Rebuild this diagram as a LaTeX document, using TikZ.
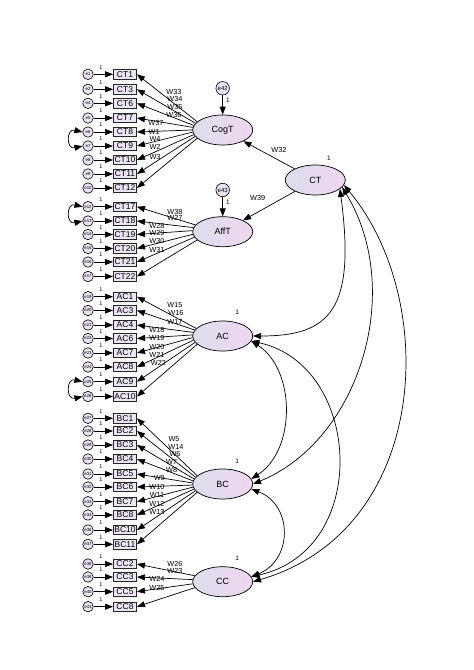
\documentclass[tikz,border=0pt]{standalone}
\usepackage{fontspec}
\setmainfont{Liberation Sans}
\usetikzlibrary{arrows.meta,shapes.geometric}
\definecolor{boxfill}{HTML}{EDE5F5}
\definecolor{ellL}{HTML}{DCDEEC}
\definecolor{ellR}{HTML}{F0D6F0}
\definecolor{efill}{HTML}{EAE2F2}
\tikzset{
  obs/.style={draw=black!85, line width=0.9pt, fill=boxfill, minimum width=23pt, minimum height=9.5pt, inner sep=0pt, font=\fontsize{8.5}{8}\selectfont},
  err/.style={circle, draw, line width=0.6pt, fill=efill, minimum size=10.5pt, inner sep=0pt, font=\fontsize{4.3}{4}\selectfont},
  bigerr/.style={circle, draw, line width=0.6pt, fill=efill, minimum size=13.5pt, inner sep=0pt, font=\fontsize{6}{6}\selectfont},
  lat/.style={ellipse, draw, line width=0.7pt, left color=ellL, right color=ellR, minimum width=60pt, minimum height=30pt, inner sep=0pt, font=\fontsize{9}{9}\selectfont},
  arr/.style={line width=0.7pt, -{Triangle[length=8pt,width=6pt]}},
  dbl/.style={line width=0.7pt, {Triangle[length=8pt,width=6pt]}-{Triangle[length=8pt,width=6pt]}},
  wlab/.style={font=\fontsize{7.3}{7}\selectfont, inner sep=0pt},
  onelab/.style={font=\fontsize{6.5}{6}\selectfont, inner sep=0pt},
  rowone/.style={font=\fontsize{5.5}{5}\selectfont, inner sep=0pt},
}
\begin{document}
\begin{tikzpicture}[x=1pt,y=-1pt]
\useasboundingbox (0,0) rectangle (474,670);
\fill[white] (0,0) rectangle (474,670);

% latent variables
\node[lat] (CogT) at (222.7,130) {CogT};
\node[lat] (AffT) at (222.7,231.7) {AffT};
\node[lat] (CT) at (315.3,180) {CT};
\node[lat] (AC) at (222.7,336) {AC};
\node[lat] (BC) at (222.7,484) {BC};
\node[lat] (CC) at (222.7,581.7) {CC};
\node[bigerr] (e42) at (222.7,88.3) {e42};
\node[bigerr] (e43) at (222.7,190) {e43};
\draw[arr] (e42) -- (CogT);
\draw[arr] (e43) -- (AffT);
\node[onelab] (one42) at (228,100) {1};
\node[onelab] (one43) at (228,202) {1};
\draw[arr] (CT) -- (CogT);
\draw[arr] (CT) -- (AffT);
\node[wlab] (w32) at (279,150) {W32};
\node[wlab] (w39) at (257.7,198.3) {W39};
\node[onelab] (oneCT) at (329,158) {1};
\node[onelab] (oneAC) at (237.3,312.3) {1};
\node[onelab] (oneBC) at (237.3,461.7) {1};
\node[onelab] (oneCC) at (237.3,558.3) {1};

% indicators
\foreach \n/\y/\e [count=\i] in {CT1/74.3/e1, CT3/89.3/e2, CT6/103.3/e4, CT7/118/e5, CT8/132/e6, CT9/146/e7, CT10/160/e8, CT11/174/e9, CT12/188/e10}{
  \node[obs] (\n) at (125,\y) {\n};
  \node[err] (\e) at (88,\y) {\e};
  \draw[arr] (\e) -- (\n);
  \node[rowone] (one\n) at (101,\y-7) {1};
  \pgfmathtruncatemacro\ang{162+(\i-1)*36/8}
  \draw[arr] (CogT.\ang) -- (\n.east);
}
\foreach \n/\y/\e [count=\i] in {CT17/206.7/e12, CT18/221/e13, CT19/234.5/e14, CT20/248.5/e15, CT21/262/e16, CT22/276.5/e17}{
  \node[obs] (\n) at (125,\y) {\n};
  \node[err] (\e) at (88,\y) {\e};
  \draw[arr] (\e) -- (\n);
  \node[rowone] (one\n) at (101,\y-7) {1};
  \pgfmathtruncatemacro\ang{166+(\i-1)*32/5}
  \draw[arr] (AffT.\ang) -- (\n.east);
}
\foreach \n/\y/\e [count=\i] in {AC1/296.7/e19, AC3/310.5/e20, AC4/325/e21, AC6/338.5/e22, AC7/353/e23, AC8/367/e24, AC9/381.7/e25, AC10/396.5/e26}{
  \node[obs] (\n) at (125,\y) {\n};
  \node[err] (\e) at (88,\y) {\e};
  \draw[arr] (\e) -- (\n);
  \node[rowone] (one\n) at (101,\y-7) {1};
  \pgfmathtruncatemacro\ang{164+(\i-1)*34/7}
  \draw[arr] (AC.\ang) -- (\n.east);
}
\foreach \n/\y/\e [count=\i] in {BC1/418.3/e27, BC2/431/e28, BC3/445/e29, BC4/459/e30, BC5/474/e31, BC6/487/e32, BC7/501.7/e33, BC8/515/e34, BC10/530/e36, BC11/544.3/e37}{
  \node[obs] (\n) at (125,\y) {\n};
  \node[err] (\e) at (88,\y) {\e};
  \draw[arr] (\e) -- (\n);
  \node[rowone] (one\n) at (101,\y-7) {1};
  \pgfmathtruncatemacro\ang{162+(\i-1)*36/9}
  \draw[arr] (BC.\ang) -- (\n.east);
}
\foreach \n/\y/\e [count=\i] in {CC2/564/e38, CC3/577/e39, CC5/591.7/e40, CC8/606.7/e41}{
  \node[obs] (\n) at (125,\y) {\n};
  \node[err] (\e) at (88,\y) {\e};
  \draw[arr] (\e) -- (\n);
  \node[rowone] (one\n) at (101,\y-7) {1};
  \pgfmathtruncatemacro\ang{168+(\i-1)*24/3}
  \draw[arr] (CC.\ang) -- (\n.east);
}

% loading labels
\foreach \w/\x/\y in {W33/174/92.3, W34/175/99.3, W35/175/106.7, W36/174/115, W37/156/122.7, W1/154/131.7, W4/155/139.3, W2/155/147.3, W3/155/156.7,
  W38/175/211.7, W27/175/218.3, W28/157/226, W29/157/233.3, W30/157/240.7, W31/157/250,
  W15/175/305, W16/176/313.3, W17/175/321.7, W18/157/330, W19/157/338.3, W20/157/346.7, W21/157/355, W22/158.5/363.3,
  W5/174/439, W14/176/446.7, W6/175/454.3, W7/171.7/462.3, W8/171.7/470, W9/159.3/478.3, W10/157/486.7, W11/157/495, W12/157/504.3, W13/157/512.3,
  W26/175/564, W23/175/570.7, W24/157/579.3, W25/157/588.3}{
  \node[wlab] (lab\w) at (\x,\y) {\w};
}

% error covariances
\draw[dbl] (e6.west) .. controls (66,128) and (66,150) .. (e7.west);
\draw[dbl] (e12.west) .. controls (66,202.7) and (66,225) .. (e13.west);
\draw[dbl] (e25.west) .. controls (66,377.7) and (66,400.5) .. (e26.west);

% factor covariances
\draw[dbl] (CT.-20) .. controls (356,310) and (330,336) .. (AC.east);
\draw[dbl] (CT.-15) .. controls (405,290) and (360,440) .. (BC.east);
\draw[dbl] (CT.-10) .. controls (440,300) and (430,530) .. (CC.east);
\draw[dbl] (AC.-10) .. controls (296,370) and (296,450) .. (BC.10);
\draw[dbl] (AC.-10) .. controls (362,365) and (372,550) .. (CC.10);
\draw[dbl] (BC.-10) .. controls (293,505) and (293,560) .. (CC.10);
\end{tikzpicture}
\end{document}
